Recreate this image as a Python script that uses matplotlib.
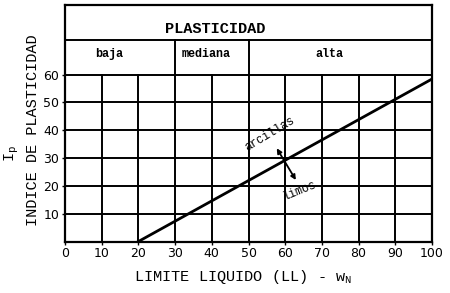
import matplotlib.pyplot as plt
import numpy as np

# carta de plasticidad (Casagrande)
ll_line = [20, 100]
ip_line = [0, 58.4]
x_ticks = [0, 10, 20, 30, 40, 50, 60, 70, 80, 90, 100]
y_ticks = [10, 20, 30, 40, 50, 60]
zonas = ['baja', 'mediana', 'alta']
zona_x = [12, 38.5, 72]
limites_zona = [30, 50]

mono = 'Liberation Mono'

fig = plt.figure(figsize=(4.5, 2.93), dpi=100)
ax = fig.add_axes([65/450, 1-241.5/293, (432-65)/450, (241.5-5)/293])
ax.set_xlim(0, 100)
ax.set_ylim(0, 85)

lw = 1.4
for x in x_ticks[1:-1]:
    ax.plot([x, x], [0, 60], color='black', lw=lw)
for y in y_ticks[:-1]:
    ax.plot([0, 100], [y, y], color='black', lw=lw)
ax.plot([0, 100], [60, 60], color='black', lw=lw)
ax.plot([0, 100], [72.5, 72.5], color='black', lw=lw)
for x in limites_zona:
    ax.plot([x, x], [60, 72.5], color='black', lw=lw)

# linea A
ax.plot(ll_line, ip_line, color='black', lw=2)

for s in ax.spines.values():
    s.set_linewidth(1.6)

ax.set_xticks(x_ticks)
ax.set_yticks(y_ticks)
ax.tick_params(length=2, width=1, labelsize=9, pad=2)

ax.text(41, 76.5, 'PLASTICIDAD', family=mono, fontweight='bold', fontsize=11,
        ha='center', va='center')
for name, x in zip(zonas, zona_x):
    ax.text(x, 67.5, name, family=mono, fontweight='bold', fontsize=8.5,
            ha='center', va='center')

ax.annotate('', xy=(57.7, 33.5), xytext=(62.9, 22.1),
            arrowprops=dict(arrowstyle='<|-|>', color='black', lw=1.3,
                            mutation_scale=7, shrinkA=0, shrinkB=0))
ax.text(55.8, 38.5, 'arcillas', family=mono, fontsize=8.5, rotation=31,
        ha='center', va='center')
ax.text(64, 18.2, 'limos', family=mono, fontsize=8.5, rotation=22,
        ha='center', va='center')

fig.text(243/450, 1-277/293, r'LIMITE LIQUIDO (LL) - w$_\mathregular{N}$',
         family=mono, fontsize=11, ha='center', va='center')
fig.text(33/450, 1-130/293, 'INDICE DE PLASTICIDAD', family=mono, fontsize=11,
         rotation=90, ha='center', va='center')
fig.text(12/450, 1-153/293, r'I$_\mathregular{p}$', family=mono, fontsize=11,
         rotation=90, ha='center', va='center')

plt.savefig('out.png', dpi=100)
